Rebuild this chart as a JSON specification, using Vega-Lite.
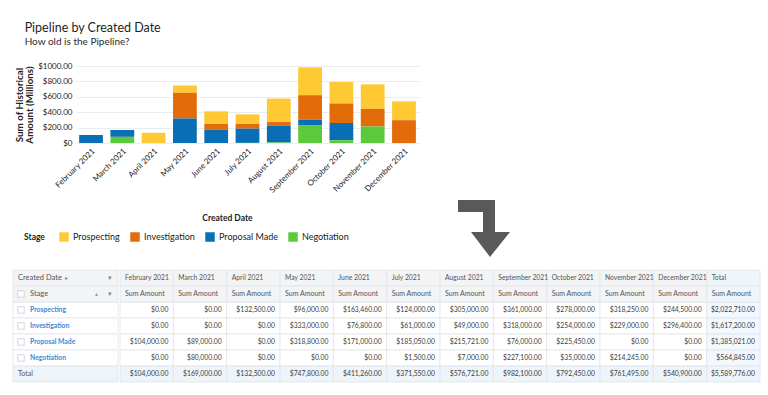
{
  "$schema": "https://vega.github.io/schema/vega-lite/v6.json",
  "padding": {"left": 12, "top": 21, "right": 5, "bottom": 5},
  "background": "white",
  "config": {"font": "Lato", "view": {"stroke": null}},
  "datasets": {
    "pipeline": [
      {"month": "February 2021", "stage": "Prospecting", "amount": 0},
      {"month": "March 2021", "stage": "Prospecting", "amount": 0},
      {"month": "April 2021", "stage": "Prospecting", "amount": 132500},
      {"month": "May 2021", "stage": "Prospecting", "amount": 96000},
      {"month": "June 2021", "stage": "Prospecting", "amount": 163460},
      {"month": "July 2021", "stage": "Prospecting", "amount": 124000},
      {"month": "August 2021", "stage": "Prospecting", "amount": 305000},
      {"month": "September 2021", "stage": "Prospecting", "amount": 361000},
      {"month": "October 2021", "stage": "Prospecting", "amount": 278000},
      {"month": "November 2021", "stage": "Prospecting", "amount": 318250},
      {"month": "December 2021", "stage": "Prospecting", "amount": 244500},
      {"month": "Total", "stage": "Prospecting", "amount": 2022710},
      {"month": "February 2021", "stage": "Investigation", "amount": 0},
      {"month": "March 2021", "stage": "Investigation", "amount": 0},
      {"month": "April 2021", "stage": "Investigation", "amount": 0},
      {"month": "May 2021", "stage": "Investigation", "amount": 333000},
      {"month": "June 2021", "stage": "Investigation", "amount": 76800},
      {"month": "July 2021", "stage": "Investigation", "amount": 61000},
      {"month": "August 2021", "stage": "Investigation", "amount": 49000},
      {"month": "September 2021", "stage": "Investigation", "amount": 318000},
      {"month": "October 2021", "stage": "Investigation", "amount": 254000},
      {"month": "November 2021", "stage": "Investigation", "amount": 229000},
      {"month": "December 2021", "stage": "Investigation", "amount": 296400},
      {"month": "Total", "stage": "Investigation", "amount": 1617200},
      {"month": "February 2021", "stage": "Proposal Made", "amount": 104000},
      {"month": "March 2021", "stage": "Proposal Made", "amount": 89000},
      {"month": "April 2021", "stage": "Proposal Made", "amount": 0},
      {"month": "May 2021", "stage": "Proposal Made", "amount": 318800},
      {"month": "June 2021", "stage": "Proposal Made", "amount": 171000},
      {"month": "July 2021", "stage": "Proposal Made", "amount": 185050},
      {"month": "August 2021", "stage": "Proposal Made", "amount": 215721},
      {"month": "September 2021", "stage": "Proposal Made", "amount": 76000},
      {"month": "October 2021", "stage": "Proposal Made", "amount": 225450},
      {"month": "November 2021", "stage": "Proposal Made", "amount": 0},
      {"month": "December 2021", "stage": "Proposal Made", "amount": 0},
      {"month": "Total", "stage": "Proposal Made", "amount": 1385021},
      {"month": "February 2021", "stage": "Negotiation", "amount": 0},
      {"month": "March 2021", "stage": "Negotiation", "amount": 80000},
      {"month": "April 2021", "stage": "Negotiation", "amount": 0},
      {"month": "May 2021", "stage": "Negotiation", "amount": 0},
      {"month": "June 2021", "stage": "Negotiation", "amount": 0},
      {"month": "July 2021", "stage": "Negotiation", "amount": 1500},
      {"month": "August 2021", "stage": "Negotiation", "amount": 7000},
      {"month": "September 2021", "stage": "Negotiation", "amount": 227100},
      {"month": "October 2021", "stage": "Negotiation", "amount": 35000},
      {"month": "November 2021", "stage": "Negotiation", "amount": 214245},
      {"month": "December 2021", "stage": "Negotiation", "amount": 0},
      {"month": "Total", "stage": "Negotiation", "amount": 564845},
      {"month": "February 2021", "stage": "Total", "amount": 104000},
      {"month": "March 2021", "stage": "Total", "amount": 169000},
      {"month": "April 2021", "stage": "Total", "amount": 132500},
      {"month": "May 2021", "stage": "Total", "amount": 747800},
      {"month": "June 2021", "stage": "Total", "amount": 411260},
      {"month": "July 2021", "stage": "Total", "amount": 371550},
      {"month": "August 2021", "stage": "Total", "amount": 576721},
      {"month": "September 2021", "stage": "Total", "amount": 982100},
      {"month": "October 2021", "stage": "Total", "amount": 792450},
      {"month": "November 2021", "stage": "Total", "amount": 761495},
      {"month": "December 2021", "stage": "Total", "amount": 540900},
      {"month": "Total", "stage": "Total", "amount": 5589776}
    ]
  },
  "vconcat": [
    {
      "hconcat": [
        {
          "width": 1,
          "height": 1,
          "data": {"values": [{}]},
          "mark": {"type": "point", "size": 0, "opacity": 0},
          "encoding": {}
        },
        {
          "hconcat": [
            {
              "data": {"name": "pipeline"},
              "transform": [
                {"filter": "datum.month != 'Total' && datum.stage != 'Total'"},
                {"calculate": "indexof(['Negotiation', 'Proposal Made', 'Investigation', 'Prospecting'], datum.stage)", "as": "stackRank"}
              ],
              "width": 343,
              "height": 77,
              "title": {
                "text": "Pipeline by Created Date",
                "subtitle": "How old is the Pipeline?",
                "anchor": "start",
                "frame": "bounds",
                "fontSize": 12.5,
                "fontWeight": "normal",
                "color": "#1f1f1f",
                "subtitleFontSize": 10,
                "subtitleColor": "#2b2b2b",
                "subtitlePadding": 3,
                "offset": 15,
                "dx": 10
              },
              "mark": {"type": "bar"},
              "encoding": {
                "x": {
                  "field": "month",
                  "type": "nominal",
                  "sort": ["February 2021", "March 2021", "April 2021", "May 2021", "June 2021", "July 2021", "August 2021", "September 2021", "October 2021", "November 2021", "December 2021"],
                  "scale": {"paddingInner": 0.24, "paddingOuter": 0.1},
                  "axis": {
                    "title": "Created Date",
                    "labelAngle": -45,
                    "labelFontSize": 8,
                    "labelColor": "#222",
                    "ticks": false,
                    "domain": false,
                    "labelPadding": 4,
                    "titleFontSize": 8.5,
                    "titleFontWeight": "bold",
                    "titleColor": "#222",
                    "titlePadding": 19,
                    "titleX": 151
                  }
                },
                "y": {
                  "field": "amount",
                  "type": "quantitative",
                  "stack": "zero",
                  "scale": {"domain": [0, 1000000]},
                  "axis": {
                    "title": ["Sum of Historical", "Amount (Millions)"],
                    "values": [0, 200000, 400000, 600000, 800000, 1000000],
                    "labelExpr": "datum.value == 0 ? '$0' : '$' + format(datum.value / 1000, '.2f')",
                    "labelFontSize": 8,
                    "labelColor": "#222",
                    "labelPadding": 4,
                    "ticks": false,
                    "domain": false,
                    "gridColor": "#e8edf1",
                    "titleFontSize": 9.8,
                    "titleFontWeight": "bold",
                    "titleColor": "#222",
                    "titleLineHeight": 10,
                    "titlePadding": 3
                  }
                },
                "order": {"field": "stackRank", "type": "quantitative", "sort": "ascending"},
                "color": {
                  "field": "stage",
                  "type": "nominal",
                  "scale": {
                    "domain": ["Prospecting", "Investigation", "Proposal Made", "Negotiation"],
                    "range": ["#FFC933", "#E36C0A", "#0A6EB6", "#5CC93C"]
                  },
                  "legend": {
                    "title": "Stage",
                    "orient": "none",
                    "legendX": 11,
                    "legendY": 166,
                    "direction": "horizontal",
                    "titleOrient": "left",
                    "titleFontSize": 8.5,
                    "titleFontWeight": "bold",
                    "titleColor": "#222",
                    "titlePadding": 14,
                    "symbolType": "square",
                    "symbolSize": 90,
                    "symbolStrokeWidth": 0,
                    "symbolOpacity": 1,
                    "labelFontSize": 9,
                    "labelColor": "#222",
                    "labelOffset": 4,
                    "columnPadding": 10
                  }
                }
              }
            },
            {
              "width": 52,
              "height": 192,
              "data": {"values": [{"x": 0.5, "y": 0.154}]},
              "mark": {
                "type": "point",
                "shape": "M-0.912,-1 L0.386,-1 L0.386,0.123 L0.912,0.123 L0.211,1 L-0.456,0.123 L-0.035,0.123 L-0.035,-0.579 L-0.912,-0.579 Z",
                "size": 3249,
                "filled": true,
                "color": "#595959",
                "opacity": 1,
                "strokeWidth": 0
              },
              "encoding": {
                "x": {"field": "x", "type": "quantitative", "scale": {"domain": [0, 1]}, "axis": null},
                "y": {"field": "y", "type": "quantitative", "scale": {"domain": [0, 1]}, "axis": null}
              }
            }
          ],
          "spacing": 39
        }
      ],
      "spacing": 0
    },
    {
      "hconcat": [
        {
          "width": 105,
          "height": 112,
          "encoding": {
            "y": {"field": "stage", "type": "nominal", "scale": {"domain": ["h1", "h2", "Prospecting", "Investigation", "Proposal Made", "Negotiation", "Total"], "paddingInner": 0, "paddingOuter": 0}, "axis": null}
          },
          "layer": [
            {
              "data": {"name": "pipeline"},
              "transform": [{"filter": "datum.month == 'Total'"}],
              "mark": {"type": "rect", "stroke": "#dfe4ea", "strokeWidth": 0.8},
              "encoding": {
                "fill": {"condition": {"test": "datum.stage == 'Total'", "value": "#edf4fa"}, "value": "#ffffff"}
              }
            },
            {
              "data": {"values": [{}]},
              "mark": {"type": "rect", "stroke": "#dfe4ea", "strokeWidth": 0.8, "fill": "#f3f4f6"},
              "encoding": {"y": {"datum": "h1"}}
            },
            {
              "data": {"values": [{}]},
              "mark": {"type": "rect", "stroke": "#dfe4ea", "strokeWidth": 0.8, "fill": "#f3f4f6"},
              "encoding": {"y": {"datum": "h2"}}
            },
            {
              "data": {"name": "pipeline"},
              "transform": [{"filter": "datum.month == 'Total' && datum.stage != 'Total'"}],
              "mark": {"type": "point", "shape": "square", "size": 42, "filled": true, "fill": "#ffffff", "stroke": "#c7cdd5", "strokeWidth": 0.8, "opacity": 1, "xOffset": -44.5},
              "encoding": {}
            },
            {
              "data": {"values": [{}]},
              "mark": {"type": "point", "shape": "square", "size": 42, "filled": true, "fill": "#ffffff", "stroke": "#c7cdd5", "strokeWidth": 0.8, "opacity": 1, "xOffset": -44.5},
              "encoding": {"y": {"datum": "h2"}}
            },
            {
              "data": {"name": "pipeline"},
              "transform": [{"filter": "datum.month == 'Total' && datum.stage != 'Total'"}],
              "mark": {"type": "text", "align": "left", "dx": -35.5, "fontSize": 6.8, "fontWeight": "bold", "color": "#3a8ad6"},
              "encoding": {"text": {"field": "stage"}}
            },
            {
              "data": {"name": "pipeline"},
              "transform": [{"filter": "datum.month == 'Total' && datum.stage == 'Total'"}],
              "mark": {"type": "text", "align": "left", "dx": -47.5, "fontSize": 7, "color": "#555"},
              "encoding": {"text": {"field": "stage"}}
            },
            {
              "data": {"values": [{}]},
              "mark": {"type": "text", "align": "left", "dx": -47.5, "fontSize": 7.5, "color": "#555", "text": "Created Date"},
              "encoding": {"y": {"datum": "h1"}}
            },
            {
              "data": {"values": [{}]},
              "mark": {"type": "text", "align": "left", "dx": -0.5, "fontSize": 6, "color": "#4a90d9", "text": "▸"},
              "encoding": {"y": {"datum": "h1"}}
            },
            {
              "data": {"values": [{}]},
              "mark": {"type": "text", "align": "left", "dx": -35.5, "fontSize": 7.5, "color": "#555", "text": "Stage"},
              "encoding": {"y": {"datum": "h2"}}
            },
            {
              "data": {"values": [{}]},
              "mark": {"type": "text", "align": "left", "dx": 28.5, "fontSize": 5, "color": "#8aa0bb", "text": "▲"},
              "encoding": {"y": {"datum": "h2"}}
            },
            {
              "data": {"values": [{}]},
              "mark": {"type": "text", "align": "left", "dx": 42.5, "fontSize": 7, "color": "#6f86a6", "text": "▾"},
              "encoding": {"y": {"datum": "h1"}}
            },
            {
              "data": {"values": [{}]},
              "mark": {"type": "text", "align": "left", "dx": 42.5, "fontSize": 7, "color": "#6f86a6", "text": "▾"},
              "encoding": {"y": {"datum": "h2"}}
            }
          ]
        },
        {
          "width": 640,
          "height": 112,
          "encoding": {
            "x": {"field": "month", "type": "nominal", "sort": ["February 2021", "March 2021", "April 2021", "May 2021", "June 2021", "July 2021", "August 2021", "September 2021", "October 2021", "November 2021", "December 2021", "Total"], "scale": {"paddingInner": 0, "paddingOuter": 0}, "axis": null},
            "y": {"field": "stage", "type": "nominal", "scale": {"domain": ["h1", "h2", "Prospecting", "Investigation", "Proposal Made", "Negotiation", "Total"], "paddingInner": 0, "paddingOuter": 0}, "axis": null}
          },
          "layer": [
            {
              "data": {"name": "pipeline"},
              "mark": {"type": "rect", "stroke": "#dfe4ea", "strokeWidth": 0.8},
              "encoding": {
                "fill": {"condition": [{"test": "datum.stage == 'Total'", "value": "#edf4fa"}, {"test": "datum.month == 'Total'", "value": "#f2f8fd"}], "value": "#ffffff"}
              }
            },
            {
              "data": {"name": "pipeline"},
              "transform": [{"filter": "datum.stage == 'Total'"}],
              "mark": {"type": "rect", "stroke": "#dfe4ea", "strokeWidth": 0.8},
              "encoding": {
                "y": {"datum": "h1"},
                "fill": {"condition": {"test": "datum.month == 'Total'", "value": "#eef5fb"}, "value": "#f3f4f6"}
              }
            },
            {
              "data": {"name": "pipeline"},
              "transform": [{"filter": "datum.stage == 'Total'"}],
              "mark": {"type": "rect", "stroke": "#dfe4ea", "strokeWidth": 0.8},
              "encoding": {
                "y": {"datum": "h2"},
                "fill": {"condition": {"test": "datum.month == 'Total'", "value": "#eef5fb"}, "value": "#f3f4f6"}
              }
            },
            {
              "data": {"name": "pipeline"},
              "transform": [{"filter": "datum.stage == 'Total'"}],
              "mark": {"type": "text", "align": "left", "dx": 5, "fontSize": 6.8, "color": "#555"},
              "encoding": {
                "x": {"field": "month", "type": "nominal", "bandPosition": 0},
                "y": {"datum": "h1"},
                "text": {"field": "month"}
              }
            },
            {
              "data": {"name": "pipeline"},
              "transform": [{"filter": "datum.stage == 'Total'"}],
              "mark": {"type": "text", "align": "left", "dx": 5, "fontSize": 7, "color": "#555", "text": "Sum Amount"},
              "encoding": {
                "x": {"field": "month", "type": "nominal", "bandPosition": 0},
                "y": {"datum": "h2"}
              }
            },
            {
              "data": {"name": "pipeline"},
              "mark": {"type": "text", "align": "right", "dx": -5, "fontSize": 6.8, "color": "#3d3d3d"},
              "encoding": {
                "x": {"field": "month", "type": "nominal", "bandPosition": 1},
                "text": {"field": "amount", "type": "quantitative", "format": "$,.2f"}
              }
            }
          ]
        }
      ],
      "spacing": 0
    }
  ],
  "spacing": 11
}
